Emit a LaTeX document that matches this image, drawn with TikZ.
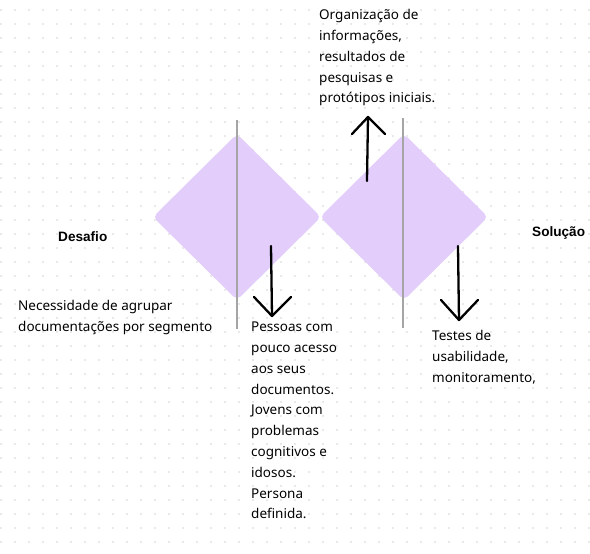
\documentclass[tikz,border=0pt]{standalone}
\usepackage{fontspec}
\setmainfont{Noto Sans}
\newfontfamily\ttlfont{Liberation Sans}
\begin{document}
\begin{tikzpicture}[x=1pt,y=-1pt,
  txt/.style={anchor=north west,inner sep=0pt,align=left,font=\fontsize{13.5}{20.8}\selectfont,text=black},
  ttl/.style={anchor=base west,inner sep=0pt,font=\ttlfont\fontsize{13.6}{20.8}\selectfont\bfseries},
  diam/.style={fill=lavender,draw=none,rounded corners=5pt},
  vline/.style={draw=vgray,line width=2.8pt},
  harrow/.style={draw=black,line width=2.3pt,line cap=round,line join=round}]
\definecolor{lavender}{RGB}{226,205,251}
\definecolor{vgray}{RGB}{165,165,165}
\definecolor{dotc}{RGB}{212,212,212}
\useasboundingbox (0,0) rectangle (590,554);
\fill[white] (0,0) rectangle (590,554);
% dot grid
\foreach \i in {0,...,42}{
  \foreach \j in {0,...,39}{
    \fill[dotc] (1+14*\i,10+14*\j) circle (0.85);
  }
}
% diamonds
\fill[diam] (153,217) -- (237,134) -- (321,217) -- (237,300) -- cycle;
\fill[diam] (320,217) -- (404,134) -- (488,217) -- (404,300) -- cycle;
% vertical lines
\coordinate (l1t) at (237,120); \coordinate (l1b) at (237,329);
\coordinate (l2t) at (403,118); \coordinate (l2b) at (403,328);
\draw[vline] (l1t) -- (l1b);
\draw[vline] (l2t) -- (l2b);
% arrows
\coordinate (a1s) at (367,181); \coordinate (a1e) at (368,117);
\draw[harrow] (a1s) -- (a1e);
\draw[harrow] (352,134) -- (a1e) -- (385,134);
\coordinate (a2s) at (271,246); \coordinate (a2e) at (272,316);
\draw[harrow] (a2s) -- (a2e);
\draw[harrow] (254,297) -- (a2e) -- (291,297);
\coordinate (a3s) at (458,246); \coordinate (a3e) at (459,320);
\draw[harrow] (a3s) -- (a3e);
\draw[harrow] (441,300) -- (a3e) -- (478,300);
% texts
\node[ttl] (desafio) at (58,241) {Desafio};
\node[ttl] (solucao) at (532,236) {Solução};
\node[txt] (org) at (319,5) {\strut Organização de\\informações,\\resultados de\\pesquisas e\\protótipos iniciais.};
\node[txt] (nec) at (18,296) {\strut Necessidade de agrupar\\documentações por segmento};
\node[txt] (pes) at (251,317) {\strut Pessoas com\\pouco acesso\\aos seus\\documentos.\\Jovens com\\problemas\\cognitivos e\\idosos.\\Persona\\definida.};
\node[txt] (tes) at (432,326) {\strut Testes de\\usabilidade,\\monitoramento,};
\end{tikzpicture}
\end{document}
